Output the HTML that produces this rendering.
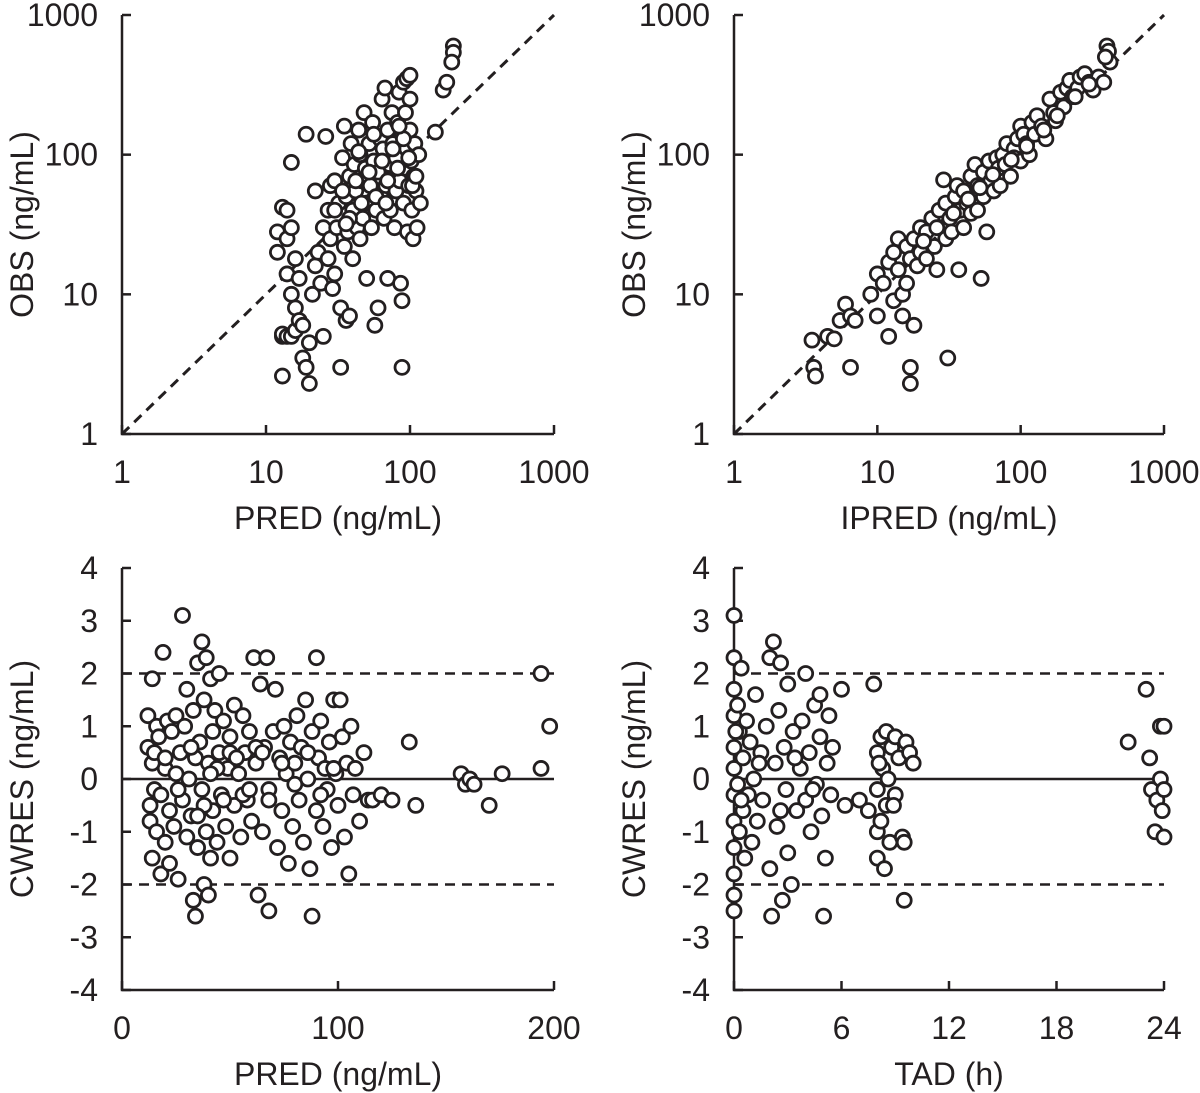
<!DOCTYPE html>
<html><head><meta charset="utf-8"><style>
html,body{margin:0;padding:0;background:#fff;}
svg{display:block;font-family:"Liberation Sans",Arial,sans-serif;}
</style></head><body>
<svg id="chart" width="1200" height="1093" viewBox="0 0 1200 1093"></svg>
<script>
const tlPred=[12,12,13,13,13,14,14,14,14,15,15,15,15,16,16,16,17,17,18,18,13,19,20,20,21,19,22,22,23,24,25,25,26,27,27,28,28,29,30,30,31,32,33,33,34,35,35,36,36,37,38,38,39,40,40,41,42,43,44,45,45,46,47,48,49,50,50,52,53,54,55,56,57,58,60,60,62,63,64,65,66,67,68,70,70,72,73,75,76,78,80,80,82,84,85,86,88,88,88,90,90,92,93,95,95,96,98,100,100,102,103,105,106,108,110,112,115,118,150,170,180,200,200,195,30,34,38,42,46,52,58,64,70,76,82,90,98,104,110,36,44,56,68,84,100];
const tlObs=[20,28,42,5,5.2,5,25,40,14,30,88,10,5,5.5,18,8,6.5,13,6,3.5,2.6,3,2.3,4.5,10,140,55,16,20,12,30,5,135,18,40,60,25,11,65,14,30,45,8,3,95,160,22,50,6.5,28,70,7,120,40,18,85,55,30,150,100,25,65,35,200,80,45,13,120,60,30,170,90,6,40,75,8,130,50,250,110,35,300,60,150,13,85,40,200,120,30,95,55,170,280,65,12,140,9,3,330,45,80,200,350,110,28,60,370,150,90,40,25,70,120,55,30,100,45,145,290,330,600,540,460,40,55,35,65,45,75,50,90,65,110,80,130,95,60,70,32,105,140,45,160,250];
const trIpred=[3.5,3.6,3.7,4.5,5,5.5,6,6.5,6.5,7,9,10,10,11,12,12,13,13,14,14,15,15,16,16,17,17,17,18,18,19,20,20,22,22,24,25,26,27,28,29,30,30,31,32,33,35,36,37,38,40,40,42,45,45,48,50,50,53,55,55,58,60,62,65,68,70,72,75,78,80,85,90,90,95,100,100,105,110,115,120,125,130,140,150,160,170,175,190,200,210,220,230,250,260,280,300,320,350,380,400,410,420,390,21,26,34,43,52,64,86,110,145,180,240,300];
const trObs=[4.7,3,2.6,5,4.8,6.5,8.5,7,3,6.5,10,7,14,12,17,5,9,20,15,25,10,7,12,22,18,2.3,3,6,25,16,30,20,28,18,35,22,15,40,30,66,25,45,3.5,35,28,50,60,15,40,55,30,45,70,38,85,60,40,13,75,50,28,90,65,55,95,80,60,100,85,120,70,110,95,130,90,160,140,120,100,170,140,190,160,130,250,200,175,280,220,300,340,260,300,360,380,330,290,360,330,600,550,460,500,24,30,38,48,58,72,92,115,150,190,260,320];
const blPred=[12,12,13,13,14,14,14,15,15,16,16,17,18,18,19,20,20,21,22,22,23,24,25,25,26,27,28,28,29,30,30,31,32,33,33,34,34,35,35,36,37,37,38,38,39,39,40,40,41,41,42,42,43,44,45,45,46,47,48,49,50,50,52,52,54,55,56,57,58,59,60,61,62,63,64,65,66,67,68,68,70,71,72,73,74,75,76,77,78,79,80,81,82,83,84,85,86,87,88,88,90,90,91,92,93,94,95,96,97,98,99,100,101,102,103,104,105,106,107,108,110,112,114,116,120,125,133,136,157,159,161,163,170,176,194,194,198,20,26,32,38,44,50,56,62,68,74,80,86,92,98,35,41,47,53,59,65];
const blRes=[1.2,0.6,-0.5,-0.8,1.9,0.3,-1.5,0.5,-0.2,1.0,-1.0,0.8,-0.3,-1.8,2.4,0.2,-1.2,1.1,-0.6,-1.6,0.9,-0.9,1.2,0.1,-1.9,0.5,3.1,-0.4,1.0,-1.1,1.7,0.0,-0.7,1.3,-2.3,0.4,-2.6,2.2,-1.3,0.7,2.6,-0.2,1.5,-2.0,2.3,-1.0,0.3,-2.2,1.9,-1.5,0.9,-0.6,1.3,-1.2,0.5,2.0,-0.3,1.1,-0.9,0.2,0.8,-1.5,1.4,-0.5,0.1,-1.1,1.2,0.5,-0.4,0.9,-0.8,2.3,0.3,-2.2,1.8,-1.0,0.6,2.3,-2.5,-0.2,0.9,1.7,-1.3,0.4,-0.6,1.0,0.1,-1.6,0.7,-0.9,0.3,1.2,-0.4,0.6,-1.2,1.5,0.0,-1.7,-2.6,0.9,2.3,-0.6,0.4,1.1,-0.9,0.2,-0.2,0.7,-1.3,1.5,0.1,-0.5,1.5,0.8,-1.1,0.3,-1.8,1.0,-0.3,0.2,-0.8,0.5,-0.4,-0.4,-0.3,-0.4,0.7,-0.5,0.1,-0.1,0.0,-0.1,-0.5,0.1,2.0,0.2,1.0,0.4,-0.2,0.6,-0.5,0.2,0.5,-0.3,0.6,-0.4,0.3,-0.1,0.5,-0.3,0.2,-0.7,0.1,-0.4,0.4,-0.2,0.5];
const brTad=[0,0,0,0,0,0,0,0,0,0,0,0,0.2,0.2,0.3,0.3,0.4,0.5,0.5,0.6,0.7,0.8,0.9,1.0,1.1,1.2,1.3,1.5,1.6,1.8,2.0,2.0,2.1,2.2,2.3,2.4,2.5,2.6,2.7,2.8,2.9,3.0,3.0,3.2,3.3,3.5,3.7,3.8,4.0,4.0,4.2,4.3,4.5,4.6,4.8,4.8,4.9,5.0,5.1,5.2,5.3,5.4,5.5,6.0,6.2,7.0,7.5,7.8,8.0,8.0,8.0,8.0,8.2,8.2,8.3,8.4,8.5,8.5,8.6,8.7,8.8,9.0,9.0,9.2,9.4,9.5,9.5,9.6,9.8,10,22,23,23.2,23.3,23.5,23.6,23.8,23.8,23.9,24,24,24,0.1,0.4,1.4,2.6,3.4,4.4,8.1,8.9];
const brRes=[3.1,2.3,1.7,1.2,0.6,0.2,-0.3,-0.8,-1.3,-1.8,-2.2,-2.5,1.4,-0.1,0.9,-1.0,2.1,0.4,-0.6,-1.5,1.1,-0.3,0.7,-1.2,0.0,1.6,-0.8,0.5,-0.4,1.0,2.3,-1.7,-2.6,2.6,0.3,-0.9,1.3,2.2,-2.3,0.6,-0.2,1.8,-1.4,-2.0,0.9,-0.6,0.2,1.1,2.0,-0.4,0.5,-1.0,1.4,-0.1,0.8,1.6,-0.7,-2.6,-1.5,0.3,1.2,-0.3,0.6,1.7,-0.5,-0.4,-0.6,1.8,0.5,-0.2,-1.0,-1.5,0.8,-0.8,0.2,-1.7,0.9,-0.5,0.0,-1.2,0.6,0.8,-0.3,0.4,-1.1,-2.3,-1.2,0.7,0.5,0.3,0.7,1.7,0.4,-0.2,-1.0,-0.4,1.0,0.0,-0.6,-1.1,1.0,-0.2,0.9,-0.4,0.3,-0.6,0.4,-0.2,0.3,-0.5];
const logTicks=["1","10","100","1000"];
const resTicks=["-4","-3","-2","-1","0","1","2","3","4"];
const predLinTicks=["0","100","200"];
const tadTicks=["0","6","12","18","24"];

const svg=document.getElementById('chart');
const NS='http://www.w3.org/2000/svg';
function mk(tag,attrs,parent){const e=document.createElementNS(NS,tag);for(const k in attrs)e.setAttribute(k,attrs[k]);(parent||svg).appendChild(e);return e;}
function txt(s,x,y,anchor,size,parent,rot){const t=mk('text',{x:x,y:y,'text-anchor':anchor,'font-size':size,fill:'#231f20'},parent);if(rot)t.setAttribute('transform','rotate(-90 '+x+' '+y+')');t.textContent=s;return t;}

function panel(name,x0,x1,y0,y1,xs,ys,xTicks,xTickVals,yTicks,yTickVals,xt,yt,xd,yd,ref){
  const g=mk('g',{});
  
  
  ref(g,xs,ys);
  const ax=mk('path',{d:`M${x0} ${y1}V${y0}H${x1}`,stroke:'#231f20','stroke-width':2.5,fill:'none'},g);
  
  
  xTickVals.forEach((v,i)=>{const px=xs(v);mk('line',{x1:px,x2:px,y1:y0,y2:y0-9,stroke:'#231f20','stroke-width':2.5},g);
    const t=txt(xTicks[i],px,y0+49,'middle',32,g);});
  yTickVals.forEach((v,i)=>{const py=ys(v);mk('line',{x1:x0,x2:x0+9,y1:py,y2:py,stroke:'#231f20','stroke-width':2.5},g);
    const t=txt(yTicks[i],x0-24,py+11,'end',32,g);});
  const a=txt(xt,(x0+x1)/2,y0+95,'middle',32,g);
  const b=txt(yt,x0-89,(y0+y1)/2,'middle',32,g,true);
  const pts=mk('g',{},g);
  
  
  xd.forEach((v,i)=>{const c=mk('circle',{cx:xs(v),cy:ys(yd[i]),r:7,fill:'#fff',stroke:'#231f20','stroke-width':2.8},pts);
    
    });
}
function logX(x0,x1){return v=>x0+(Math.log10(v))/3*(x1-x0);}
function logY(y0,y1){return v=>y0-(Math.log10(v))/3*(y0-y1);}
function diag(g,xs,ys){const l=mk('line',{x1:xs(1),y1:ys(1),x2:xs(1000),y2:ys(1000),stroke:'#231f20','stroke-width':3,'stroke-dasharray':'10 7'},g);
  }
function resLines(x0,x1){return (g,xs,ys)=>{[[2,1],[-2,1],[0,0]].forEach(([v,d])=>{const l=mk('line',{x1:x0,x2:x1,y1:ys(v),y2:ys(v),stroke:'#231f20','stroke-width':2.6},g);
  if(d)l.setAttribute('stroke-dasharray','10 7');
  });};}
const logVals=logTicks.map(Number);
panel('panel-obs-vs-pred',122,554,434,15,logX(122,554),logY(434,15),logTicks,logVals,logTicks,logVals,'PRED (ng/mL)','OBS (ng/mL)',tlPred,tlObs,diag);
panel('panel-obs-vs-ipred',734,1164,434,15,logX(734,1164),logY(434,15),logTicks,logVals,logTicks,logVals,'IPRED (ng/mL)','OBS (ng/mL)',trIpred,trObs,diag);
const resY=v=>779-v*52.75;
panel('panel-cwres-vs-pred',122,554,990,568,v=>122+v/200*432,resY,predLinTicks,predLinTicks.map(Number),resTicks,resTicks.map(Number),'PRED (ng/mL)','CWRES (ng/mL)',blPred,blRes,resLines(122,554));
panel('panel-cwres-vs-tad',734,1164,990,568,v=>734+v/24*430,resY,tadTicks,tadTicks.map(Number),resTicks,resTicks.map(Number),'TAD (h)','CWRES (ng/mL)',brTad,brRes,resLines(734,1164));
</script>
</body></html>
